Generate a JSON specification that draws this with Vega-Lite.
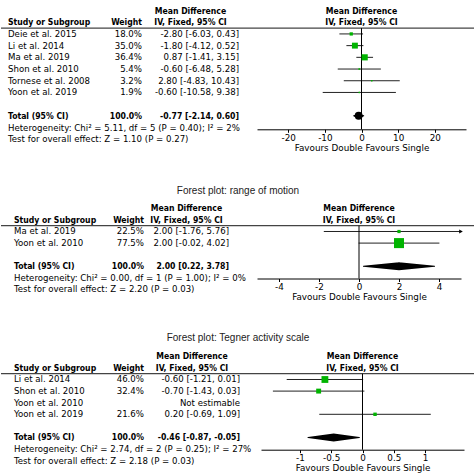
{
  "$schema": "https://vega.github.io/schema/vega-lite/v6.json",
  "padding": 0,
  "datasets": {
    "one": [{"k": 1}],
    "studies": [
      {"panel": "p1", "row": 2, "study": "Deie et al. 2015", "weight": 18.0, "md": -2.80, "lo": -6.03, "hi": 0.43},
      {"panel": "p1", "row": 3, "study": "Li et al. 2014", "weight": 35.0, "md": -1.80, "lo": -4.12, "hi": 0.52},
      {"panel": "p1", "row": 4, "study": "Ma et al. 2019", "weight": 36.4, "md": 0.87, "lo": -1.41, "hi": 3.15},
      {"panel": "p1", "row": 5, "study": "Shon et al. 2010", "weight": 5.4, "md": -0.60, "lo": -6.48, "hi": 5.28},
      {"panel": "p1", "row": 6, "study": "Tornese et al. 2008", "weight": 3.2, "md": 2.80, "lo": -4.83, "hi": 10.43},
      {"panel": "p1", "row": 7, "study": "Yoon et al. 2019", "weight": 1.9, "md": -0.60, "lo": -10.58, "hi": 9.38},
      {"panel": "rom", "row": 2, "study": "Ma et al. 2019", "weight": 22.5, "md": 2.00, "lo": -1.76, "hi": 5.76},
      {"panel": "rom", "row": 3, "study": "Yoon et al. 2010", "weight": 77.5, "md": 2.00, "lo": -0.02, "hi": 4.02},
      {"panel": "teg", "row": 2, "study": "Li et al. 2014", "weight": 46.0, "md": -0.60, "lo": -1.21, "hi": 0.01},
      {"panel": "teg", "row": 3, "study": "Shon et al. 2010", "weight": 32.4, "md": -0.70, "lo": -1.43, "hi": 0.03},
      {"panel": "teg", "row": 4, "study": "Yoon et al. 2010", "weight": null, "md": null, "lo": null, "hi": null},
      {"panel": "teg", "row": 5, "study": "Yoon et al. 2019", "weight": 21.6, "md": 0.20, "lo": -0.69, "hi": 1.09}
    ],
    "totals": [
      {"panel": "p1", "row": 9, "study": "Total (95% CI)", "weight": 100.0, "md": -0.77, "lo": -2.14, "hi": 0.60},
      {"panel": "rom", "row": 5, "study": "Total (95% CI)", "weight": 100.0, "md": 2.00, "lo": 0.22, "hi": 3.78},
      {"panel": "teg", "row": 7, "study": "Total (95% CI)", "weight": 100.0, "md": -0.46, "lo": -0.87, "hi": -0.05}
    ],
    "notes": [
      {"panel": "p1", "row": 10, "note": "Heterogeneity: Chi² = 5.11, df = 5 (P = 0.40); I² = 2%"},
      {"panel": "p1", "row": 11, "note": "Test for overall effect: Z = 1.10 (P = 0.27)"},
      {"panel": "rom", "row": 6, "note": "Heterogeneity: Chi² = 0.00, df = 1 (P = 1.00); I² = 0%"},
      {"panel": "rom", "row": 7, "note": "Test for overall effect: Z = 2.20 (P = 0.03)"},
      {"panel": "teg", "row": 8, "note": "Heterogeneity: Chi² = 2.74, df = 2 (P = 0.25); I² = 27%"},
      {"panel": "teg", "row": 9, "note": "Test for overall effect: Z = 2.18 (P = 0.03)"}
    ]
  },
  "config": {
    "view": {"stroke": null},
    "text": {"font": "DejaVu Sans", "fontSize": 8.6, "color": "#000"},
    "axis": {
      "grid": false, "domainColor": "#000", "tickColor": "#000", "tickSize": 3,
      "labelFont": "DejaVu Sans", "labelFontSize": 8.8, "labelColor": "#000", "labelPadding": 1,
      "labelFlush": false, "labelOverlap": false,
      "titleFont": "DejaVu Sans", "titleFontSize": 8.8, "titleFontWeight": "normal", "titleColor": "#000", "titlePadding": 1
    },
    "title": {"font": "Liberation Sans", "fontSize": 10, "fontWeight": "normal", "color": "#222", "anchor": "middle", "frame": "bounds", "offset": 3}
  },
  "spacing": 34,
  "vconcat": [
    {
      "bounds": "flush", "spacing": 0,
      "hconcat": [
        {
          "width": 95, "height": 146.3,
          "layer": [
            {"data": {"name": "one"}, "mark": {"type": "rule", "color": "#444", "strokeWidth": 1.2}, "encoding": {"y": {"datum": 1.5, "type": "quantitative", "scale": {"domain": [-0.9, 11.6], "reverse": true, "nice": false, "zero": false}, "axis": null}}},
            {"data": {"name": "one"}, "mark": {"type": "text", "align": "left", "dx": 7, "fontWeight": "bold", "font": "DejaVu Sans Condensed"}, "encoding": {"x": {"datum": "c", "type": "nominal", "scale": {"type": "band", "paddingInner": 0, "paddingOuter": 0}, "bandPosition": 0, "axis": null}, "y": {"datum": 1, "type": "quantitative"}, "text": {"value": "Study or Subgroup"}}},
            {"data": {"name": "studies"}, "transform": [{"filter": "datum.panel == 'p1'"}], "mark": {"type": "text", "align": "left", "dx": 7}, "encoding": {"x": {"datum": "c", "type": "nominal", "bandPosition": 0}, "y": {"field": "row", "type": "quantitative"}, "text": {"field": "study"}}},
            {"data": {"name": "totals"}, "transform": [{"filter": "datum.panel == 'p1'"}], "mark": {"type": "text", "align": "left", "dx": 7, "fontWeight": "bold", "font": "DejaVu Sans Condensed"}, "encoding": {"x": {"datum": "c", "type": "nominal", "bandPosition": 0}, "y": {"field": "row", "type": "quantitative"}, "text": {"field": "study"}}},
            {"data": {"name": "notes"}, "transform": [{"filter": "datum.panel == 'p1'"}], "mark": {"type": "text", "align": "left", "dx": 7}, "encoding": {"x": {"datum": "c", "type": "nominal", "bandPosition": 0}, "y": {"field": "row", "type": "quantitative"}, "text": {"field": "note"}}}
          ]
        },
        {
          "width": 46, "height": 146.3,
          "layer": [
            {"data": {"name": "one"}, "mark": {"type": "rule", "color": "#444", "strokeWidth": 1.2}, "encoding": {"y": {"datum": 1.5, "type": "quantitative", "scale": {"domain": [-0.9, 11.6], "reverse": true, "nice": false, "zero": false}, "axis": null}}},
            {"data": {"name": "one"}, "mark": {"type": "text", "align": "right", "fontWeight": "bold", "font": "DejaVu Sans Condensed"}, "encoding": {"x": {"datum": "c", "type": "nominal", "scale": {"type": "band", "paddingInner": 0, "paddingOuter": 0}, "bandPosition": 1, "axis": null}, "y": {"datum": 1, "type": "quantitative"}, "text": {"value": "Weight"}}},
            {"data": {"name": "studies"}, "transform": [{"filter": "datum.panel == 'p1'"}, {"calculate": "datum.weight == null ? '' : format(datum.weight, '.1f') + '%'", "as": "wlabel"}], "mark": {"type": "text", "align": "right"}, "encoding": {"x": {"datum": "c", "type": "nominal", "bandPosition": 1}, "y": {"field": "row", "type": "quantitative"}, "text": {"field": "wlabel"}}},
            {"data": {"name": "totals"}, "transform": [{"filter": "datum.panel == 'p1'"}, {"calculate": "format(datum.weight, '.1f') + '%'", "as": "wlabel"}], "mark": {"type": "text", "align": "right", "fontWeight": "bold", "font": "DejaVu Sans Condensed"}, "encoding": {"x": {"datum": "c", "type": "nominal", "bandPosition": 1}, "y": {"field": "row", "type": "quantitative"}, "text": {"field": "wlabel"}}}
          ]
        },
        {
          "width": 97, "height": 146.3,
          "layer": [
            {"data": {"name": "one"}, "mark": {"type": "rule", "color": "#444", "strokeWidth": 1.2}, "encoding": {"y": {"datum": 1.5, "type": "quantitative", "scale": {"domain": [-0.9, 11.6], "reverse": true, "nice": false, "zero": false}, "axis": null}}},
            {"data": {"name": "one"}, "mark": {"type": "text", "align": "center", "fontWeight": "bold", "font": "DejaVu Sans Condensed"}, "encoding": {"x": {"datum": "c", "type": "nominal", "scale": {"type": "band", "paddingInner": 0, "paddingOuter": 0}, "bandPosition": 0.5, "axis": null}, "y": {"datum": 0, "type": "quantitative"}, "text": {"value": "Mean Difference"}}},
            {"data": {"name": "one"}, "mark": {"type": "text", "align": "center", "fontWeight": "bold", "font": "DejaVu Sans Condensed"}, "encoding": {"x": {"datum": "c", "type": "nominal", "bandPosition": 0.5}, "y": {"datum": 1, "type": "quantitative"}, "text": {"value": "IV, Fixed, 95% CI"}}},
            {"data": {"name": "studies"}, "transform": [{"filter": "datum.panel == 'p1'"}, {"calculate": "datum.md == null ? 'Not estimable' : replace(format(datum.md, '.2f'), '\u2212', '-') + ' [' + replace(format(datum.lo, '.2f'), '\u2212', '-') + ', ' + replace(format(datum.hi, '.2f'), '\u2212', '-') + ']'", "as": "ci"}], "mark": {"type": "text", "align": "right"}, "encoding": {"x": {"datum": "c", "type": "nominal", "bandPosition": 1}, "y": {"field": "row", "type": "quantitative"}, "text": {"field": "ci"}}},
            {"data": {"name": "totals"}, "transform": [{"filter": "datum.panel == 'p1'"}, {"calculate": "replace(format(datum.md, '.2f'), '\u2212', '-') + ' [' + replace(format(datum.lo, '.2f'), '\u2212', '-') + ', ' + replace(format(datum.hi, '.2f'), '\u2212', '-') + ']'", "as": "ci"}], "mark": {"type": "text", "align": "right", "fontWeight": "bold", "font": "DejaVu Sans Condensed"}, "encoding": {"x": {"datum": "c", "type": "nominal", "bandPosition": 1}, "y": {"field": "row", "type": "quantitative"}, "text": {"field": "ci"}}}
          ]
        },
        {
          "width": 236, "height": 129.3,
          "resolve": {"scale": {"size": "independent"}},
          "layer": [
            {"data": {"name": "one"}, "mark": {"type": "rule", "color": "#444", "strokeWidth": 1.2}, "encoding": {"y": {"datum": 1.5, "type": "quantitative", "scale": {"domain": [-0.9, 10.15], "reverse": true, "nice": false, "zero": false}, "axis": null}}},
            {"data": {"name": "studies"}, "transform": [{"filter": "datum.panel == 'p1'"}], "mark": {"type": "rule", "color": "#222"}, "encoding": {"x": {"field": "lo", "type": "quantitative", "scale": {"domain": [-28.5, 28.5], "range": [18, 227], "clamp": true, "nice": false, "zero": false}, "axis": {"values": [-20, -10, 0, 10, 20], "format": "~r", "labelExpr": "replace(datum.label, '\u2212', '-')", "title": "Favours Double  Favours Single"}}, "x2": {"field": "hi"}, "y": {"field": "row", "type": "quantitative"}}},
            {"data": {"name": "one"}, "mark": {"type": "rule", "color": "#000"}, "encoding": {"x": {"datum": 0, "type": "quantitative"}, "y": {"datum": 1.5, "type": "quantitative"}, "y2": {"datum": 10.15}}},
            {"data": {"name": "studies"}, "transform": [{"filter": "datum.panel == 'p1'"}], "mark": {"type": "point", "shape": "square", "filled": true, "color": "#00b400", "opacity": 1}, "encoding": {"x": {"field": "md", "type": "quantitative"}, "y": {"field": "row", "type": "quantitative"}, "size": {"field": "weight", "type": "quantitative", "scale": {"type": "pow", "exponent": 2, "domain": [0, 100], "range": [2, 272]}, "legend": null}}},
            {"data": {"name": "totals"}, "transform": [{"filter": "datum.panel == 'p1'"}, {"fold": ["lo", "md", "hi"], "as": ["end", "v"]}, {"calculate": "datum.end == 'md' ? 1 : 0", "as": "bulge"}], "mark": {"type": "trail", "color": "#000"}, "encoding": {"x": {"field": "v", "type": "quantitative"}, "y": {"field": "row", "type": "quantitative"}, "size": {"field": "bulge", "type": "quantitative", "scale": {"domain": [0, 1], "range": [0, 8]}, "legend": null}}},
            {"data": {"name": "one"}, "mark": {"type": "text", "align": "center", "fontWeight": "bold", "font": "DejaVu Sans Condensed"}, "encoding": {"x": {"datum": 0, "type": "quantitative"}, "y": {"datum": 0, "type": "quantitative"}, "text": {"value": "Mean Difference"}}},
            {"data": {"name": "one"}, "mark": {"type": "text", "align": "center", "fontWeight": "bold", "font": "DejaVu Sans Condensed"}, "encoding": {"x": {"datum": 0, "type": "quantitative"}, "y": {"datum": 1, "type": "quantitative"}, "text": {"value": "IV, Fixed, 95% CI"}}}
          ]
        }
      ]
    },
    {
      "spacing": 31,
      "vconcat": [
        {
          "title": {"text": "Forest plot: range of motion"},
          "bounds": "flush", "spacing": 0,
          "hconcat": [
            {
              "width": 95, "height": 97.4,
              "layer": [
                {"data": {"name": "one"}, "mark": {"type": "rule", "color": "#444", "strokeWidth": 1.2}, "encoding": {"y": {"datum": 1.5, "type": "quantitative", "scale": {"domain": [-0.8, 7.6], "reverse": true, "nice": false, "zero": false}, "axis": null}}},
                {"data": {"name": "one"}, "mark": {"type": "text", "align": "left", "dx": 13, "fontWeight": "bold", "font": "DejaVu Sans Condensed"}, "encoding": {"x": {"datum": "c", "type": "nominal", "scale": {"type": "band", "paddingInner": 0, "paddingOuter": 0}, "bandPosition": 0, "axis": null}, "y": {"datum": 1, "type": "quantitative"}, "text": {"value": "Study or Subgroup"}}},
                {"data": {"name": "studies"}, "transform": [{"filter": "datum.panel == 'rom'"}], "mark": {"type": "text", "align": "left", "dx": 13}, "encoding": {"x": {"datum": "c", "type": "nominal", "bandPosition": 0}, "y": {"field": "row", "type": "quantitative"}, "text": {"field": "study"}}},
                {"data": {"name": "totals"}, "transform": [{"filter": "datum.panel == 'rom'"}], "mark": {"type": "text", "align": "left", "dx": 13, "fontWeight": "bold", "font": "DejaVu Sans Condensed"}, "encoding": {"x": {"datum": "c", "type": "nominal", "bandPosition": 0}, "y": {"field": "row", "type": "quantitative"}, "text": {"field": "study"}}},
                {"data": {"name": "notes"}, "transform": [{"filter": "datum.panel == 'rom'"}], "mark": {"type": "text", "align": "left", "dx": 13}, "encoding": {"x": {"datum": "c", "type": "nominal", "bandPosition": 0}, "y": {"field": "row", "type": "quantitative"}, "text": {"field": "note"}}}
              ]
            },
            {
              "width": 48, "height": 97.4,
              "layer": [
                {"data": {"name": "one"}, "mark": {"type": "rule", "color": "#444", "strokeWidth": 1.2}, "encoding": {"y": {"datum": 1.5, "type": "quantitative", "scale": {"domain": [-0.8, 7.6], "reverse": true, "nice": false, "zero": false}, "axis": null}}},
                {"data": {"name": "one"}, "mark": {"type": "text", "align": "right", "fontWeight": "bold", "font": "DejaVu Sans Condensed"}, "encoding": {"x": {"datum": "c", "type": "nominal", "scale": {"type": "band", "paddingInner": 0, "paddingOuter": 0}, "bandPosition": 1, "axis": null}, "y": {"datum": 1, "type": "quantitative"}, "text": {"value": "Weight"}}},
                {"data": {"name": "studies"}, "transform": [{"filter": "datum.panel == 'rom'"}, {"calculate": "datum.weight == null ? '' : format(datum.weight, '.1f') + '%'", "as": "wlabel"}], "mark": {"type": "text", "align": "right"}, "encoding": {"x": {"datum": "c", "type": "nominal", "bandPosition": 1}, "y": {"field": "row", "type": "quantitative"}, "text": {"field": "wlabel"}}},
                {"data": {"name": "totals"}, "transform": [{"filter": "datum.panel == 'rom'"}, {"calculate": "format(datum.weight, '.1f') + '%'", "as": "wlabel"}], "mark": {"type": "text", "align": "right", "fontWeight": "bold", "font": "DejaVu Sans Condensed"}, "encoding": {"x": {"datum": "c", "type": "nominal", "bandPosition": 1}, "y": {"field": "row", "type": "quantitative"}, "text": {"field": "wlabel"}}}
              ]
            },
            {
              "width": 85, "height": 97.4,
              "layer": [
                {"data": {"name": "one"}, "mark": {"type": "rule", "color": "#444", "strokeWidth": 1.2}, "encoding": {"y": {"datum": 1.5, "type": "quantitative", "scale": {"domain": [-0.8, 7.6], "reverse": true, "nice": false, "zero": false}, "axis": null}}},
                {"data": {"name": "one"}, "mark": {"type": "text", "align": "center", "fontWeight": "bold", "font": "DejaVu Sans Condensed"}, "encoding": {"x": {"datum": "c", "type": "nominal", "scale": {"type": "band", "paddingInner": 0, "paddingOuter": 0}, "bandPosition": 0.5, "axis": null}, "y": {"datum": 0, "type": "quantitative"}, "text": {"value": "Mean Difference"}}},
                {"data": {"name": "one"}, "mark": {"type": "text", "align": "center", "fontWeight": "bold", "font": "DejaVu Sans Condensed"}, "encoding": {"x": {"datum": "c", "type": "nominal", "bandPosition": 0.5}, "y": {"datum": 1, "type": "quantitative"}, "text": {"value": "IV, Fixed, 95% CI"}}},
                {"data": {"name": "studies"}, "transform": [{"filter": "datum.panel == 'rom'"}, {"calculate": "datum.md == null ? 'Not estimable' : replace(format(datum.md, '.2f'), '\u2212', '-') + ' [' + replace(format(datum.lo, '.2f'), '\u2212', '-') + ', ' + replace(format(datum.hi, '.2f'), '\u2212', '-') + ']'", "as": "ci"}], "mark": {"type": "text", "align": "right"}, "encoding": {"x": {"datum": "c", "type": "nominal", "bandPosition": 1}, "y": {"field": "row", "type": "quantitative"}, "text": {"field": "ci"}}},
                {"data": {"name": "totals"}, "transform": [{"filter": "datum.panel == 'rom'"}, {"calculate": "replace(format(datum.md, '.2f'), '\u2212', '-') + ' [' + replace(format(datum.lo, '.2f'), '\u2212', '-') + ', ' + replace(format(datum.hi, '.2f'), '\u2212', '-') + ']'", "as": "ci"}], "mark": {"type": "text", "align": "right", "fontWeight": "bold", "font": "DejaVu Sans Condensed"}, "encoding": {"x": {"datum": "c", "type": "nominal", "bandPosition": 1}, "y": {"field": "row", "type": "quantitative"}, "text": {"field": "ci"}}}
              ]
            },
            {
              "width": 246, "height": 79.5,
              "resolve": {"scale": {"size": "independent"}},
              "layer": [
                {"data": {"name": "one"}, "mark": {"type": "rule", "color": "#444", "strokeWidth": 1.2}, "encoding": {"y": {"datum": 1.5, "type": "quantitative", "scale": {"domain": [-0.8, 6.05], "reverse": true, "nice": false, "zero": false}, "axis": null}}},
                {"data": {"name": "studies"}, "transform": [{"filter": "datum.panel == 'rom'"}], "mark": {"type": "rule", "color": "#222"}, "encoding": {"x": {"field": "lo", "type": "quantitative", "scale": {"domain": [-5.1, 5.1], "range": [28, 232], "clamp": true, "nice": false, "zero": false}, "axis": {"values": [-4, -2, 0, 2, 4], "format": "~r", "labelExpr": "replace(datum.label, '\u2212', '-')", "title": "Favours Double  Favours Single"}}, "x2": {"field": "hi"}, "y": {"field": "row", "type": "quantitative"}}},
                {"data": {"name": "one"}, "mark": {"type": "rule", "color": "#000"}, "encoding": {"x": {"datum": 0, "type": "quantitative"}, "y": {"datum": 1.5, "type": "quantitative"}, "y2": {"datum": 6.05}}},
                {"data": {"name": "studies"}, "transform": [{"filter": "datum.panel == 'rom' && datum.hi > 5.1"}], "mark": {"type": "point", "shape": "triangle-right", "filled": true, "color": "#000", "size": 18, "opacity": 1}, "encoding": {"x": {"field": "hi", "type": "quantitative"}, "y": {"field": "row", "type": "quantitative"}}},
                {"data": {"name": "studies"}, "transform": [{"filter": "datum.panel == 'rom'"}], "mark": {"type": "point", "shape": "square", "filled": true, "color": "#00b400", "opacity": 1}, "encoding": {"x": {"field": "md", "type": "quantitative"}, "y": {"field": "row", "type": "quantitative"}, "size": {"field": "weight", "type": "quantitative", "scale": {"type": "pow", "exponent": 2, "domain": [0, 100], "range": [2, 166]}, "legend": null}}},
                {"data": {"name": "totals"}, "transform": [{"filter": "datum.panel == 'rom'"}, {"fold": ["lo", "md", "hi"], "as": ["end", "v"]}, {"calculate": "datum.end == 'md' ? 1 : 0", "as": "bulge"}], "mark": {"type": "trail", "color": "#000"}, "encoding": {"x": {"field": "v", "type": "quantitative"}, "y": {"field": "row", "type": "quantitative"}, "size": {"field": "bulge", "type": "quantitative", "scale": {"domain": [0, 1], "range": [0, 8]}, "legend": null}}},
                {"data": {"name": "one"}, "mark": {"type": "text", "align": "center", "fontWeight": "bold", "font": "DejaVu Sans Condensed"}, "encoding": {"x": {"datum": 0, "type": "quantitative"}, "y": {"datum": 0, "type": "quantitative"}, "text": {"value": "Mean Difference"}}},
                {"data": {"name": "one"}, "mark": {"type": "text", "align": "center", "fontWeight": "bold", "font": "DejaVu Sans Condensed"}, "encoding": {"x": {"datum": 0, "type": "quantitative"}, "y": {"datum": 1, "type": "quantitative"}, "text": {"value": "IV, Fixed, 95% CI"}}}
              ]
            }
          ]
        },
        {
          "title": {"text": "Forest plot: Tegner activity scale", "offset": 4},
          "bounds": "flush", "spacing": 0,
          "hconcat": [
            {
              "width": 95, "height": 120.6,
              "layer": [
                {"data": {"name": "one"}, "mark": {"type": "rule", "color": "#444", "strokeWidth": 1.2}, "encoding": {"y": {"datum": 1.5, "type": "quantitative", "scale": {"domain": [-0.8, 9.6], "reverse": true, "nice": false, "zero": false}, "axis": null}}},
                {"data": {"name": "one"}, "mark": {"type": "text", "align": "left", "dx": 13, "fontWeight": "bold", "font": "DejaVu Sans Condensed"}, "encoding": {"x": {"datum": "c", "type": "nominal", "scale": {"type": "band", "paddingInner": 0, "paddingOuter": 0}, "bandPosition": 0, "axis": null}, "y": {"datum": 1, "type": "quantitative"}, "text": {"value": "Study or Subgroup"}}},
                {"data": {"name": "studies"}, "transform": [{"filter": "datum.panel == 'teg'"}], "mark": {"type": "text", "align": "left", "dx": 13}, "encoding": {"x": {"datum": "c", "type": "nominal", "bandPosition": 0}, "y": {"field": "row", "type": "quantitative"}, "text": {"field": "study"}}},
                {"data": {"name": "totals"}, "transform": [{"filter": "datum.panel == 'teg'"}], "mark": {"type": "text", "align": "left", "dx": 13, "fontWeight": "bold", "font": "DejaVu Sans Condensed"}, "encoding": {"x": {"datum": "c", "type": "nominal", "bandPosition": 0}, "y": {"field": "row", "type": "quantitative"}, "text": {"field": "study"}}},
                {"data": {"name": "notes"}, "transform": [{"filter": "datum.panel == 'teg'"}], "mark": {"type": "text", "align": "left", "dx": 13}, "encoding": {"x": {"datum": "c", "type": "nominal", "bandPosition": 0}, "y": {"field": "row", "type": "quantitative"}, "text": {"field": "note"}}}
              ]
            },
            {
              "width": 48, "height": 120.6,
              "layer": [
                {"data": {"name": "one"}, "mark": {"type": "rule", "color": "#444", "strokeWidth": 1.2}, "encoding": {"y": {"datum": 1.5, "type": "quantitative", "scale": {"domain": [-0.8, 9.6], "reverse": true, "nice": false, "zero": false}, "axis": null}}},
                {"data": {"name": "one"}, "mark": {"type": "text", "align": "right", "fontWeight": "bold", "font": "DejaVu Sans Condensed"}, "encoding": {"x": {"datum": "c", "type": "nominal", "scale": {"type": "band", "paddingInner": 0, "paddingOuter": 0}, "bandPosition": 1, "axis": null}, "y": {"datum": 1, "type": "quantitative"}, "text": {"value": "Weight"}}},
                {"data": {"name": "studies"}, "transform": [{"filter": "datum.panel == 'teg'"}, {"calculate": "datum.weight == null ? '' : format(datum.weight, '.1f') + '%'", "as": "wlabel"}], "mark": {"type": "text", "align": "right"}, "encoding": {"x": {"datum": "c", "type": "nominal", "bandPosition": 1}, "y": {"field": "row", "type": "quantitative"}, "text": {"field": "wlabel"}}},
                {"data": {"name": "totals"}, "transform": [{"filter": "datum.panel == 'teg'"}, {"calculate": "format(datum.weight, '.1f') + '%'", "as": "wlabel"}], "mark": {"type": "text", "align": "right", "fontWeight": "bold", "font": "DejaVu Sans Condensed"}, "encoding": {"x": {"datum": "c", "type": "nominal", "bandPosition": 1}, "y": {"field": "row", "type": "quantitative"}, "text": {"field": "wlabel"}}}
              ]
            },
            {
              "width": 96, "height": 120.6,
              "layer": [
                {"data": {"name": "one"}, "mark": {"type": "rule", "color": "#444", "strokeWidth": 1.2}, "encoding": {"y": {"datum": 1.5, "type": "quantitative", "scale": {"domain": [-0.8, 9.6], "reverse": true, "nice": false, "zero": false}, "axis": null}}},
                {"data": {"name": "one"}, "mark": {"type": "text", "align": "center", "fontWeight": "bold", "font": "DejaVu Sans Condensed"}, "encoding": {"x": {"datum": "c", "type": "nominal", "scale": {"type": "band", "paddingInner": 0, "paddingOuter": 0}, "bandPosition": 0.5, "axis": null}, "y": {"datum": 0, "type": "quantitative"}, "text": {"value": "Mean Difference"}}},
                {"data": {"name": "one"}, "mark": {"type": "text", "align": "center", "fontWeight": "bold", "font": "DejaVu Sans Condensed"}, "encoding": {"x": {"datum": "c", "type": "nominal", "bandPosition": 0.5}, "y": {"datum": 1, "type": "quantitative"}, "text": {"value": "IV, Fixed, 95% CI"}}},
                {"data": {"name": "studies"}, "transform": [{"filter": "datum.panel == 'teg'"}, {"calculate": "datum.md == null ? 'Not estimable' : replace(format(datum.md, '.2f'), '\u2212', '-') + ' [' + replace(format(datum.lo, '.2f'), '\u2212', '-') + ', ' + replace(format(datum.hi, '.2f'), '\u2212', '-') + ']'", "as": "ci"}], "mark": {"type": "text", "align": "right"}, "encoding": {"x": {"datum": "c", "type": "nominal", "bandPosition": 1}, "y": {"field": "row", "type": "quantitative"}, "text": {"field": "ci"}}},
                {"data": {"name": "totals"}, "transform": [{"filter": "datum.panel == 'teg'"}, {"calculate": "replace(format(datum.md, '.2f'), '\u2212', '-') + ' [' + replace(format(datum.lo, '.2f'), '\u2212', '-') + ', ' + replace(format(datum.hi, '.2f'), '\u2212', '-') + ']'", "as": "ci"}], "mark": {"type": "text", "align": "right", "fontWeight": "bold", "font": "DejaVu Sans Condensed"}, "encoding": {"x": {"datum": "c", "type": "nominal", "bandPosition": 1}, "y": {"field": "row", "type": "quantitative"}, "text": {"field": "ci"}}}
              ]
            },
            {
              "width": 235, "height": 102.7,
              "resolve": {"scale": {"size": "independent"}},
              "layer": [
                {"data": {"name": "one"}, "mark": {"type": "rule", "color": "#444", "strokeWidth": 1.2}, "encoding": {"y": {"datum": 1.5, "type": "quantitative", "scale": {"domain": [-0.8, 8.05], "reverse": true, "nice": false, "zero": false}, "axis": null}}},
                {"data": {"name": "studies"}, "transform": [{"filter": "datum.panel == 'teg'"}], "mark": {"type": "rule", "color": "#222"}, "encoding": {"x": {"field": "lo", "type": "quantitative", "scale": {"domain": [-1.62, 1.62], "range": [21, 224], "clamp": true, "nice": false, "zero": false}, "axis": {"values": [-1, -0.5, 0, 0.5, 1], "format": "~r", "labelExpr": "replace(datum.label, '\u2212', '-')", "title": "Favours Double  Favours Single"}}, "x2": {"field": "hi"}, "y": {"field": "row", "type": "quantitative"}}},
                {"data": {"name": "one"}, "mark": {"type": "rule", "color": "#000"}, "encoding": {"x": {"datum": 0, "type": "quantitative"}, "y": {"datum": 1.5, "type": "quantitative"}, "y2": {"datum": 8.05}}},
                {"data": {"name": "studies"}, "transform": [{"filter": "datum.panel == 'teg'"}], "mark": {"type": "point", "shape": "square", "filled": true, "color": "#00b400", "opacity": 1}, "encoding": {"x": {"field": "md", "type": "quantitative"}, "y": {"field": "row", "type": "quantitative"}, "size": {"field": "weight", "type": "quantitative", "scale": {"type": "pow", "exponent": 2, "domain": [0, 100], "range": [2, 213]}, "legend": null}}},
                {"data": {"name": "totals"}, "transform": [{"filter": "datum.panel == 'teg'"}, {"fold": ["lo", "md", "hi"], "as": ["end", "v"]}, {"calculate": "datum.end == 'md' ? 1 : 0", "as": "bulge"}], "mark": {"type": "trail", "color": "#000"}, "encoding": {"x": {"field": "v", "type": "quantitative"}, "y": {"field": "row", "type": "quantitative"}, "size": {"field": "bulge", "type": "quantitative", "scale": {"domain": [0, 1], "range": [0, 8]}, "legend": null}}},
                {"data": {"name": "one"}, "mark": {"type": "text", "align": "center", "fontWeight": "bold", "font": "DejaVu Sans Condensed"}, "encoding": {"x": {"datum": 0, "type": "quantitative"}, "y": {"datum": 0, "type": "quantitative"}, "text": {"value": "Mean Difference"}}},
                {"data": {"name": "one"}, "mark": {"type": "text", "align": "center", "fontWeight": "bold", "font": "DejaVu Sans Condensed"}, "encoding": {"x": {"datum": 0, "type": "quantitative"}, "y": {"datum": 1, "type": "quantitative"}, "text": {"value": "IV, Fixed, 95% CI"}}}
              ]
            }
          ]
        }
      ]
    }
  ]
}
